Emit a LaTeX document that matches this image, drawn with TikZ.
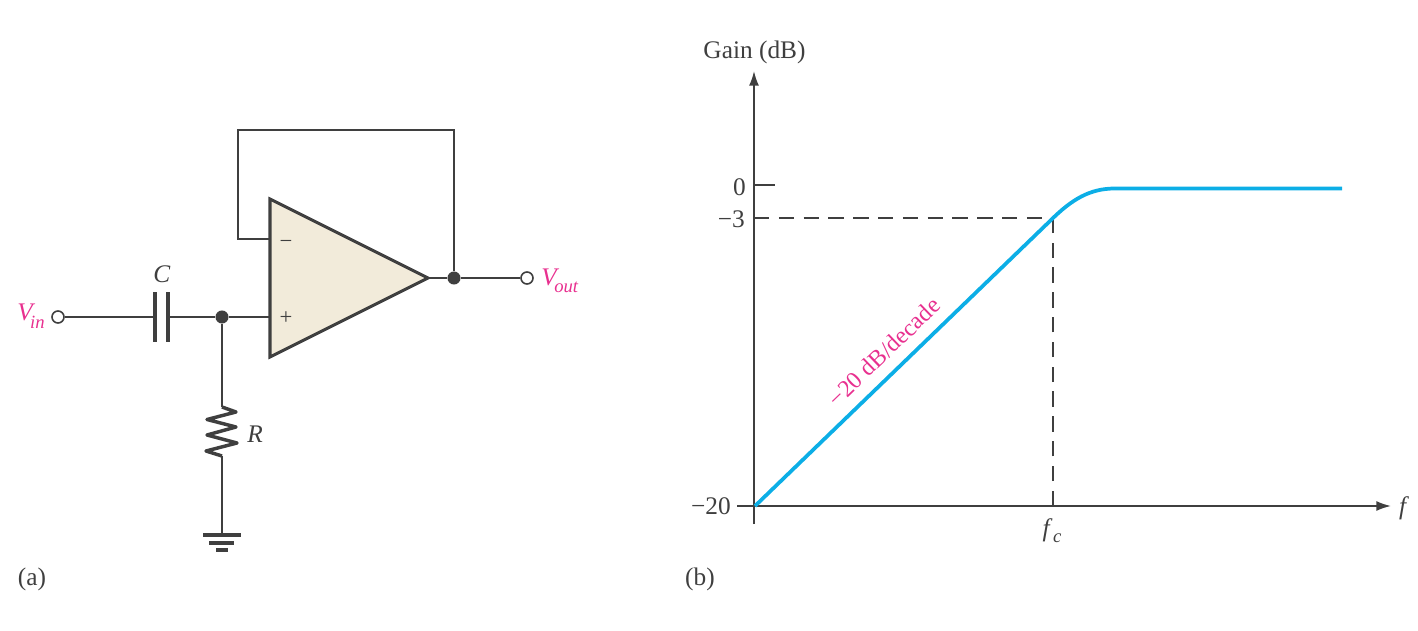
\documentclass[tikz,border=0pt]{standalone}
\usepackage{fontspec}
\setmainfont{Liberation Serif}
\usetikzlibrary{arrows.meta}
\definecolor{ink}{HTML}{3F3F3F}
\definecolor{mag}{HTML}{E8308F}
\definecolor{sky}{HTML}{0CAEE6}
\definecolor{tan}{HTML}{F2EBDA}
\newcommand{\subsc}[2]{\textit{#1}\kern-.2em\raisebox{-.3em}{\fontsize{14pt}{14pt}\selectfont\textit{#2}}}
\tikzset{
  px/.style={x=0.75pt,y=-0.75pt},
  wire/.style={draw=ink,line width=1.2pt},
  heavy/.style={draw=ink,line width=2.3pt},
  zig/.style={draw=ink,line width=2.6pt,line join=round},
  curve/.style={draw=sky,line width=2.8pt,line join=round},
  dashline/.style={draw=ink,line width=1.2pt,dash pattern=on 11.6pt off 7pt},
  axis/.style={draw=ink,line width=1.3pt},
  axisarrow/.style={axis,-{Latex[length=11pt,width=7.5pt]}},
  term/.style={circle,draw=ink,fill=white,line width=1.2pt,minimum size=9pt,inner sep=0pt},
  dot/.style={circle,fill=ink,minimum size=9.8pt,inner sep=0pt},
  txt/.style={text=ink,font=\fontsize{19pt}{22pt}\selectfont,inner sep=0pt},
  sig/.style={text=mag,font=\fontsize{19pt}{22pt}\selectfont,inner sep=0pt},
  sign/.style={text=ink,font=\fontsize{17pt}{18pt}\selectfont,inner sep=0pt},
}
\begin{document}
\begin{tikzpicture}[px]
\useasboundingbox (0,0) rectangle (1418,631);
% op amp
\coordinate (ampTL) at (270,199);
\coordinate (ampBL) at (270,357);
\coordinate (ampO) at (428,278);
\coordinate (inM) at (270,239);
\coordinate (inP) at (270,317);
\filldraw[fill=tan,heavy,miter limit=3] (ampTL) -- (ampO) -- (ampBL) -- cycle;
\node[sign] (minus) at (286,244) {−};
\node[sign] (plus) at (286,318) {+};
% terminals and junctions
\node[term] (vin) at (58,317) {};
\node[term] (vout) at (527,278) {};
\node[dot] (jin) at (222,317) {};
\node[dot] (jout) at (454,278) {};
% capacitor
\coordinate (capL) at (155,317);
\coordinate (capR) at (168,317);
\coordinate (capLt) at (155,292);
\coordinate (capLb) at (155,342);
\coordinate (capRt) at (168,292);
\coordinate (capRb) at (168,342);
\draw[heavy] (capLt) -- (capLb);
\draw[heavy] (capRt) -- (capRb);
\draw[wire] (vin) -- (capL);
\draw[wire] (capR) -- (jin);
\draw[wire] (jin) -- (inP);
% feedback
\coordinate (fb1) at (238,239);
\coordinate (fb2) at (238,130);
\coordinate (fb3) at (454,130);
\draw[wire,line join=miter] (inM) -- (fb1) -- (fb2) -- (fb3) -- (jout);
\draw[wire] (ampO) -- (jout);
\draw[wire] (jout) -- (vout);
% resistor
\coordinate (resT) at (222,407);
\coordinate (resB) at (222,456);
\coordinate (gnd) at (222,535);
\draw[wire] (jin) -- (resT);
\draw[zig] (resT) -- (236,412) -- (207,419.5) -- (236,427) -- (207,435) -- (237,443) -- (206,451) -- (resB);
\draw[wire] (resB) -- (gnd);
\coordinate (g1l) at (203,535);
\coordinate (g1r) at (241,535);
\coordinate (g2l) at (209,542.5);
\coordinate (g2r) at (234,542.5);
\coordinate (g3l) at (216,549.5);
\coordinate (g3r) at (228,549.5);
\draw[draw=ink,line width=3pt] (g1l) -- (g1r);
\draw[draw=ink,line width=3pt] (g2l) -- (g2r);
\draw[draw=ink,line width=3pt] (g3l) -- (g3r);
% labels (a)
\node[txt] (lC) at (162,274) {\textit{C}};
\node[txt] (lR) at (255,434) {\textit{R}};
\node[sig] (lVin) at (31,316) {\subsc{V}{in}};
\node[sig] (lVout) at (560,281) {\subsc{V}{out}};
\node[txt] (la) at (32,579) {(a)};
% graph (b)
\coordinate (yB) at (754,524);
\coordinate (yT) at (754,71);
\coordinate (xL) at (737,506);
\coordinate (xR) at (1391,506);
\coordinate (t0) at (775,185);
\coordinate (y0) at (754,185);
\coordinate (y3) at (754,218);
\coordinate (fc3) at (1053,218);
\coordinate (fc0) at (1053,506);
\draw[dashline] (y3) -- (fc3);
\draw[dashline] (fc0) -- (fc3);
\draw[axisarrow] (yB) -- (yT);
\draw[axisarrow] (xL) -- (xR);
\draw[axis] (y0) -- (t0);
\coordinate (c0) at (755,506);
\coordinate (c1) at (1050,221);
\coordinate (c2) at (1115,188.5);
\coordinate (c3) at (1342,188.5);
\draw[curve] (c0) -- (c1) .. controls (1072,199) and (1090,188.5) .. (c2) -- (c3);
\node[txt] (lGain) at (754.5,52) {Gain (dB)};
\node[txt,anchor=east] (l0) at (746,187) {0};
\node[txt,anchor=east] (l3) at (745,219) {−3};
\node[txt,anchor=east] (l20) at (731,506) {−20};
\node[txt] (lfc) at (1052,531) {\textit{f}\kern.02em\raisebox{-.25em}{\fontsize{14pt}{14pt}\selectfont\textit{c}}};
\node[txt] (lf) at (1404,508) {\textit{f}};
\node[txt] (lb) at (700,579) {(b)};
\node[sig,rotate=44,font=\fontsize{18pt}{20pt}\selectfont] (lslope) at (884,352) {−20 dB/decade};
\end{tikzpicture}
\end{document}
